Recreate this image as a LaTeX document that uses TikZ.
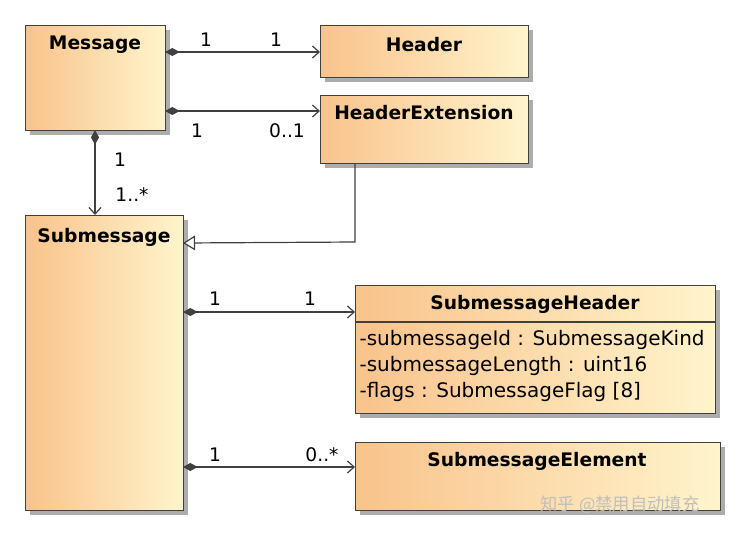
\documentclass[tikz,border=0pt]{standalone}
\usepackage{fontspec}
\setmainfont{DejaVu Sans}
\newfontfamily\cjk{Noto Sans CJK SC}
\usetikzlibrary{positioning,arrows.meta,shadows}

\definecolor{clsleft}{HTML}{F9C38C}
\definecolor{clsright}{HTML}{FFF4CC}

\tikzset{
  cls/.style={draw=black!75, line width=0.9pt, anchor=north west, inner sep=0pt,
    shading angle=60, left color=clsleft, right color=clsright,
    drop shadow={shadow xshift=3pt, shadow yshift=-3pt, fill=black!40, opacity=0.8}},
  title/.style={font=\fontsize{14}{16}\selectfont\bfseries, inner sep=1pt},
  attr/.style={font=\fontsize{15}{17}\selectfont, anchor=west, inner sep=1pt},
  mult/.style={font=\fontsize{14}{16}\selectfont, inner sep=1pt},
  comp/.style={draw=black!75, line width=0.9pt, {Diamond[length=11pt,width=6pt]}-{Straight Barb[length=5pt,width=9pt]}},
  gen/.style={draw=black!75, line width=0.9pt, -{Triangle[open,length=9pt,width=11pt,fill=white]}}
}

\begin{document}
\begin{tikzpicture}[x=0.75pt,y=-0.75pt]
  \useasboundingbox[fill=white] (0,0) rectangle (746,537);

  % classes
  \node[cls, minimum width=105pt, minimum height=78.75pt] (msg) at (25,25) {};
  \node[cls, minimum width=156pt, minimum height=39pt] (hdr) at (320,25) {};
  \node[cls, minimum width=156pt, minimum height=51pt] (hext) at (320,95) {};
  \node[cls, minimum width=118.5pt, minimum height=221.25pt] (sub) at (25,215) {};
  \node[cls, minimum width=270pt, minimum height=96pt] (shdr) at (355,285) {};
  \node[cls, minimum width=273.75pt, minimum height=51pt] (selem) at (355,442) {};

  \node[title] at (95,45) {Message};
  \node[title] at (424,45) {Header};
  \node[title] at (424,113) {HeaderExtension};
  \node[title] at (104,237) {Submessage};
  \node[title] at (535,304) {SubmessageHeader};
  \draw[draw=black!75, line width=0.9pt] (355,322) -- (715,322);
  \node[attr] at (358,340) {-submessageId : SubmessageKind};
  \node[attr] at (358,366) {-submessageLength : uint16};
  \node[attr] at (358,392) {-flags : SubmessageFlag [8]};
  \node[title] at (537,461) {SubmessageElement};

  % associations
  \coordinate (a1) at (165,52);   \coordinate (b1) at (320,52);
  \coordinate (a2) at (165,111);  \coordinate (b2) at (320,111);
  \coordinate (a3) at (95,130);   \coordinate (b3) at (95,215);
  \coordinate (a4) at (183,312);  \coordinate (b4) at (355,312);
  \coordinate (a5) at (183,467);  \coordinate (b5) at (355,467);
  \coordinate (g1) at (355,163);  \coordinate (g2) at (355,242);
  \coordinate (g3) at (183,243);

  \draw[comp] (a1) -- (b1);
  \draw[comp] (a2) -- (b2);
  \draw[comp] (a3) -- (b3);
  \draw[comp] (a4) -- (b4);
  \draw[comp] (a5) -- (b5);
  \draw[gen] (g1) -- (g2) -- (g3);

  \node[mult] at (206,40) {1};
  \node[mult] at (276,40) {1};
  \node[mult] at (197,131) {1};
  \node[mult] at (287,131) {0..1};
  \node[mult] at (120,160) {1};
  \node[mult] at (132,195) {1..*};
  \node[mult] at (215,299) {1};
  \node[mult] at (310,299) {1};
  \node[mult] at (215,455) {1};
  \node[mult] at (322,455) {0..*};

  \node[font=\cjk\fontsize{13}{15}\selectfont, text=black!25] (wm) at (620,505) {知乎 @禁用自动填充};
\end{tikzpicture}
\end{document}
